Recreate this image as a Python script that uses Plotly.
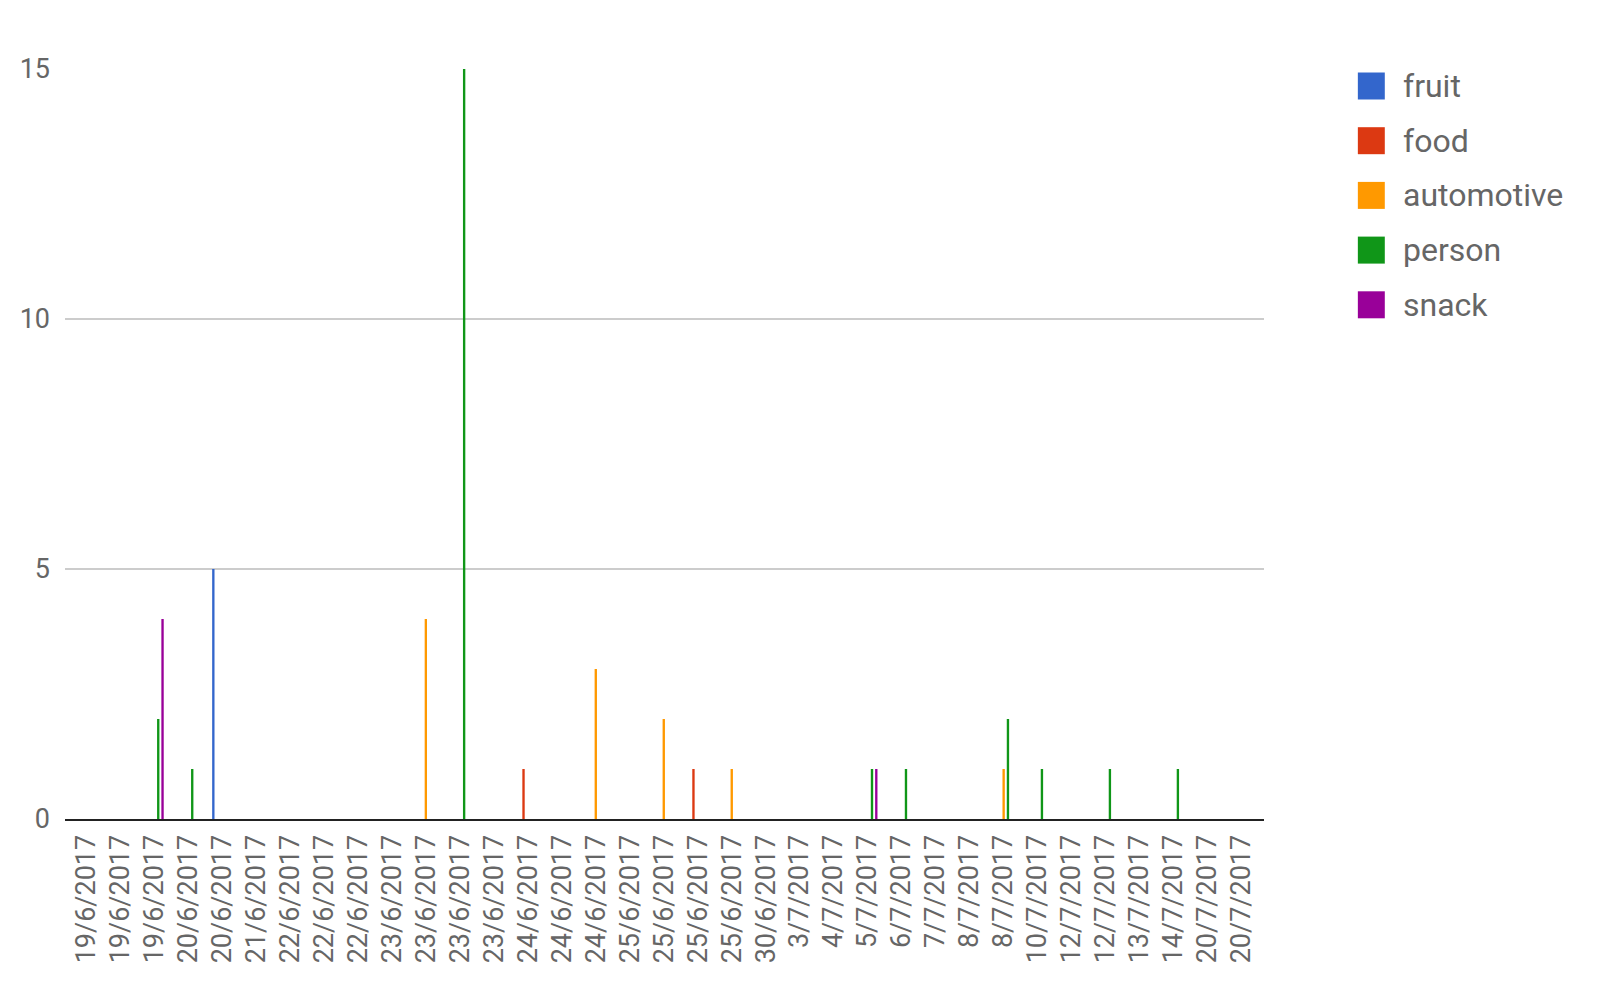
import plotly.graph_objects as go

dates = ["19/6/2017", "19/6/2017", "19/6/2017", "20/6/2017", "20/6/2017", "21/6/2017",
         "22/6/2017", "22/6/2017", "22/6/2017", "23/6/2017", "23/6/2017", "23/6/2017",
         "23/6/2017", "24/6/2017", "24/6/2017", "24/6/2017", "25/6/2017", "25/6/2017",
         "25/6/2017", "25/6/2017", "30/6/2017", "3/7/2017", "4/7/2017", "5/7/2017",
         "6/7/2017", "7/7/2017", "8/7/2017", "8/7/2017", "10/7/2017", "12/7/2017",
         "12/7/2017", "13/7/2017", "14/7/2017", "20/7/2017", "20/7/2017"]

fruit = [0, 0, 0, 0, 5, 0, 0, 0, 0, 0, 0, 0, 0, 0, 0, 0, 0, 0,
         0, 0, 0, 0, 0, 0, 0, 0, 0, 0, 0, 0, 0, 0, 0, 0, 0]
food = [0, 0, 0, 0, 0, 0, 0, 0, 0, 0, 0, 0, 0, 1, 0, 0, 0, 0,
        1, 0, 0, 0, 0, 0, 0, 0, 0, 0, 0, 0, 0, 0, 0, 0, 0]
automotive = [0, 0, 0, 0, 0, 0, 0, 0, 0, 0, 4, 0, 0, 0, 0, 3, 0, 2,
              0, 1, 0, 0, 0, 0, 0, 0, 0, 1, 0, 0, 0, 0, 0, 0, 0]
person = [0, 0, 2, 1, 0, 0, 0, 0, 0, 0, 0, 15, 0, 0, 0, 0, 0, 0,
          0, 0, 0, 0, 0, 1, 1, 0, 0, 2, 1, 0, 1, 0, 1, 0, 0]
snack = [0, 0, 4, 0, 0, 0, 0, 0, 0, 0, 0, 0, 0, 0, 0, 0, 0, 0,
         0, 0, 0, 0, 0, 1, 0, 0, 0, 0, 0, 0, 0, 0, 0, 0, 0]

series_names = ["fruit", "food", "automotive", "person", "snack"]
series_values = [fruit, food, automotive, person, snack]
colors = ["#3366cc", "#dc3912", "#ff9900", "#109618", "#990099"]

y_ticks = [0, 5, 10, 15]

FONT = "Roboto, Arial, sans-serif"
TEXT = "#666666"

x = list(range(len(dates)))

fig = go.Figure()
for name, vals, col in zip(series_names, series_values, colors):
    fig.add_trace(go.Bar(x=x, y=vals, name=name, marker=dict(color=col, line=dict(width=0)),
                         showlegend=False))

# page has an 8px body margin; figure geometry in figure pixels
OFF = 8
W, H = 1600 - 2 * OFF, 996 - 2 * OFF
ML, MT = 63 - OFF, 69 - OFF
PW, PH = 1201, 750
MR = W - ML - PW
MB = H - MT - PH

def px_x(p):
    return (p - OFF - ML) / PW

def px_y(p):
    return (MT + PH - (p - OFF)) / PH

shapes = []
annotations = []
for k, (name, col) in enumerate(zip(series_names, colors)):
    cy = 86 + 54.7 * k
    shapes.append(dict(type="rect", xref="paper", yref="paper",
                       x0=px_x(1358), x1=px_x(1385),
                       y0=px_y(cy + 13.5), y1=px_y(cy - 13.5),
                       fillcolor=col, line=dict(width=0), layer="above"))
    annotations.append(dict(xref="paper", yref="paper", x=px_x(1401), y=px_y(cy),
                            xanchor="left", yanchor="middle", text=name, showarrow=False,
                            font=dict(family=FONT, size=32, color=TEXT)))

fig.update_layout(
    width=W, height=H,
    margin=dict(l=ML, r=MR, t=MT, b=MB, pad=0),
    paper_bgcolor="white", plot_bgcolor="white",
    barmode="group", bargap=0.368, bargroupgap=0.45,
    font=dict(family=FONT, size=27, color=TEXT),
    shapes=shapes, annotations=annotations,
    xaxis=dict(
        tickmode="array", tickvals=x, ticktext=dates, tickangle=-90,
        range=[-0.617, 34.66], showgrid=False, zeroline=False,
        showline=True, linecolor="#222222", linewidth=2,
        ticks="", ticklabelstandoff=3,
        tickfont=dict(family=FONT, size=27, color=TEXT),
    ),
    yaxis=dict(
        range=[0, 15], tickmode="array", tickvals=y_ticks,
        showgrid=True, gridcolor="#cccccc", gridwidth=1.5,
        zeroline=False, showline=False, ticks="", ticklabelstandoff=14,
        tickfont=dict(family=FONT, size=27, color=TEXT),
    ),
)

fig.write_html("out.html")
